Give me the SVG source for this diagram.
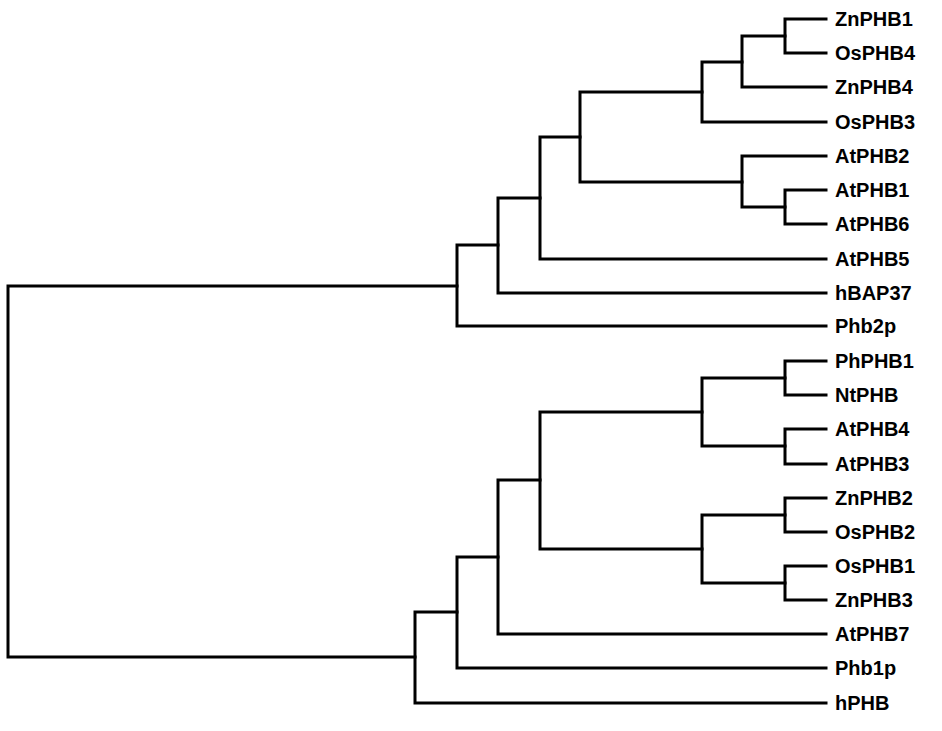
<svg xmlns="http://www.w3.org/2000/svg" width="942" height="731" viewBox="0 0 942 731">
<style>
.e{fill:none;stroke:#000;stroke-width:3;stroke-linecap:square}
text{font-family:"Liberation Sans",Arial,sans-serif;font-weight:bold;font-size:20px;fill:#000;dominant-baseline:central}
</style>
<rect width="942" height="731" fill="#fff"/>
<g id="connectors" class="e">
<path d="M8,286V657M8,286H457M8,657H415"/>
<path d="M457,245V326M457,245H498M457,326H826"/>
<path d="M498,198V293M498,198H540M498,293H826"/>
<path d="M540,137V259M540,137H580M540,259H826"/>
<path d="M580,92V182M580,92H702M580,182H742"/>
<path d="M702,62V122M702,62H742M702,122H826"/>
<path d="M742,36V87M742,36H785M742,87H826"/>
<path d="M785,19V53M785,19H826M785,53H826"/>
<path d="M742,156V207M742,156H826M742,207H785"/>
<path d="M785,190V224M785,190H826M785,224H826"/>
<path d="M415,612V703M415,612H457M415,703H826"/>
<path d="M457,557V668M457,557H498M457,668H826"/>
<path d="M498,480V634M498,480H540M498,634H826"/>
<path d="M540,412V549M540,412H702M540,549H702"/>
<path d="M702,378V446M702,378H785M702,446H785"/>
<path d="M785,361V395M785,361H826M785,395H826"/>
<path d="M785,429V464M785,429H826M785,464H826"/>
<path d="M702,515V583M702,515H785M702,583H785"/>
<path d="M785,498V532M785,498H826M785,532H826"/>
<path d="M785,566V600M785,566H826M785,600H826"/>
</g>
<g id="leaves">
<text id="n1" x="835" y="19">ZnPHB1</text>
<text id="n2" x="835" y="53">OsPHB4</text>
<text id="n3" x="835" y="87">ZnPHB4</text>
<text id="n4" x="835" y="122">OsPHB3</text>
<text id="n5" x="835" y="156">AtPHB2</text>
<text id="n6" x="835" y="190">AtPHB1</text>
<text id="n7" x="835" y="224">AtPHB6</text>
<text id="n8" x="835" y="259">AtPHB5</text>
<text id="n9" x="835" y="293">hBAP37</text>
<text id="n10" x="835" y="326">Phb2p</text>
<text id="n11" x="835" y="361">PhPHB1</text>
<text id="n12" x="835" y="395">NtPHB</text>
<text id="n13" x="835" y="429">AtPHB4</text>
<text id="n14" x="835" y="464">AtPHB3</text>
<text id="n15" x="835" y="498">ZnPHB2</text>
<text id="n16" x="835" y="532">OsPHB2</text>
<text id="n17" x="835" y="566">OsPHB1</text>
<text id="n18" x="835" y="600">ZnPHB3</text>
<text id="n19" x="835" y="634">AtPHB7</text>
<text id="n20" x="835" y="668">Phb1p</text>
<text id="n21" x="835" y="703">hPHB</text>
</g>
</svg>
